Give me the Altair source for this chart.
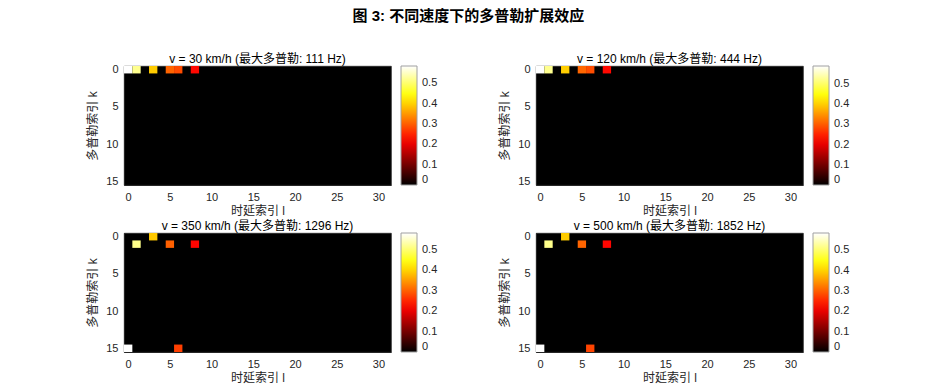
import altair as alt
import pandas as pd

# ---- data ----
n_delay = 32      # 时延索引 l : 0..31
n_doppler = 16    # 多普勒索引 k : 0..15

panel_titles = [
    "v = 30 km/h (最大多普勒: 111 Hz)",
    "v = 120 km/h (最大多普勒: 444 Hz)",
    "v = 350 km/h (最大多普勒: 1296 Hz)",
    "v = 500 km/h (最大多普勒: 1852 Hz)",
]

path_delays = [0, 1, 3, 5, 6, 8]

doppler_30 = [0, 0, 0, 0, 0, 0]
doppler_120 = [0, 0, 0, 0, 0, 0]
doppler_350 = [15, 1, 0, 1, 15, 1]
doppler_500 = [15, 1, 0, 1, 15, 1]

gain_30 = [0.585, 0.52, 0.395, 0.305, 0.284, 0.225]
gain_120 = [0.59, 0.525, 0.40, 0.31, 0.288, 0.228]
gain_350 = [0.582, 0.515, 0.39, 0.30, 0.272, 0.222]
gain_500 = [0.585, 0.518, 0.395, 0.305, 0.278, 0.224]

x_ticks = [0, 5, 10, 15, 20, 25, 30]
y_ticks = [0, 5, 10, 15]
cbar_ticks = [0, 0.1, 0.2, 0.3, 0.4, 0.5]

dopplers = [doppler_30, doppler_120, doppler_350, doppler_500]
gains = [gain_30, gain_120, gain_350, gain_500]

FONT = "Liberation Sans, Noto Sans CJK SC"
TXT = "#262626"
W, H = 267, 119


def grid_frame(dop, gain):
    # full 32 x 16 delay-Doppler grid; zero cells show as the black background
    vals = {(k, l): g for l, k, g in zip(path_delays, dop, gain)}
    rows = []
    for k in range(n_doppler):
        for l in range(n_delay):
            rows.append({"l": l, "k": k, "v": vals.get((k, l), 0.0)})
    return pd.DataFrame(rows)


def panel(i):
    df = grid_frame(dopplers[i], gains[i])
    m = max(gains[i])
    dom = [0, 0.375 * m, 0.75 * m, m]
    rng = ["#000000", "#ff0000", "#ffff00", "#ffffff"]
    return (
        alt.Chart(df)
        .transform_filter("datum.v > 0")
        .transform_calculate(
            l0="datum.l - 0.5", l1="datum.l + 0.5",
            k0="datum.k - 0.5", k1="datum.k + 0.5",
        )
        .mark_rect(strokeWidth=0)
        .encode(
            x=alt.X(
                "l0:Q",
                scale=alt.Scale(domain=[-0.5, n_delay - 0.5], nice=False, zero=False),
                axis=alt.Axis(
                    title="时延索引 l", values=x_ticks, ticks=False, grid=False,
                    labelPadding=6, titlePadding=3, labelFontSize=11,
                    titleFontSize=12, titleFontWeight="normal",
                    labelColor=TXT, titleColor=TXT, domainColor=TXT,
                    labelFont=FONT, titleFont=FONT,
                ),
            ),
            x2="l1:Q",
            y=alt.Y(
                "k0:Q",
                scale=alt.Scale(domain=[-0.5, n_doppler - 0.5], nice=False,
                                zero=False, reverse=True),
                axis=alt.Axis(
                    title="多普勒索引 k", values=y_ticks, ticks=False, grid=False,
                    labelPadding=6, titlePadding=6, labelFontSize=11,
                    titleFontSize=12, titleFontWeight="normal",
                    labelColor=TXT, titleColor=TXT, domainColor=TXT,
                    labelFont=FONT, titleFont=FONT,
                ),
            ),
            y2="k1:Q",
            color=alt.Color(
                "v:Q",
                scale=alt.Scale(domain=dom, range=rng, interpolate="rgb"),
                legend=alt.Legend(
                    title=None, values=cbar_ticks, format=".1~f",
                    gradientLength=H, gradientThickness=16, offset=10,
                    labelFontSize=11, labelColor=TXT, labelFont=FONT,
                    labelOffset=5, labelOverlap=False,
                    gradientStrokeColor="#a0a0a0", gradientStrokeWidth=1,
                    padding=0,
                ),
            ),
        )
        .properties(
            width=W, height=H,
            view=alt.ViewBackground(fill="#000000", stroke=TXT, strokeWidth=0.8),
            title=alt.TitleParams(
                panel_titles[i], fontSize=12, font=FONT, fontWeight="normal",
                color="#000000", anchor="middle", baseline="alphabetic", offset=-11,
            ),
        )
    )


row1 = alt.hconcat(panel(0), panel(1), spacing=59).resolve_scale(color="independent")
row2 = alt.hconcat(panel(2), panel(3), spacing=59).resolve_scale(color="independent")

chart = (
    alt.vconcat(row1, row2, spacing=2)
    .resolve_scale(color="independent")
    .properties(
        title=alt.TitleParams(
            "图 3: 不同速度下的多普勒扩展效应", fontSize=15, fontWeight="bold",
            font=FONT, color="#000000", anchor="middle", offset=28,
        ),
        padding={"left": 78, "top": 1, "right": 5, "bottom": 5},
        background="white",
    )
    .configure_view(stroke=TXT, strokeWidth=0.8, fill="#000000")
)

chart.save("out.html", embed_options={"renderer": "svg", "actions": False})
